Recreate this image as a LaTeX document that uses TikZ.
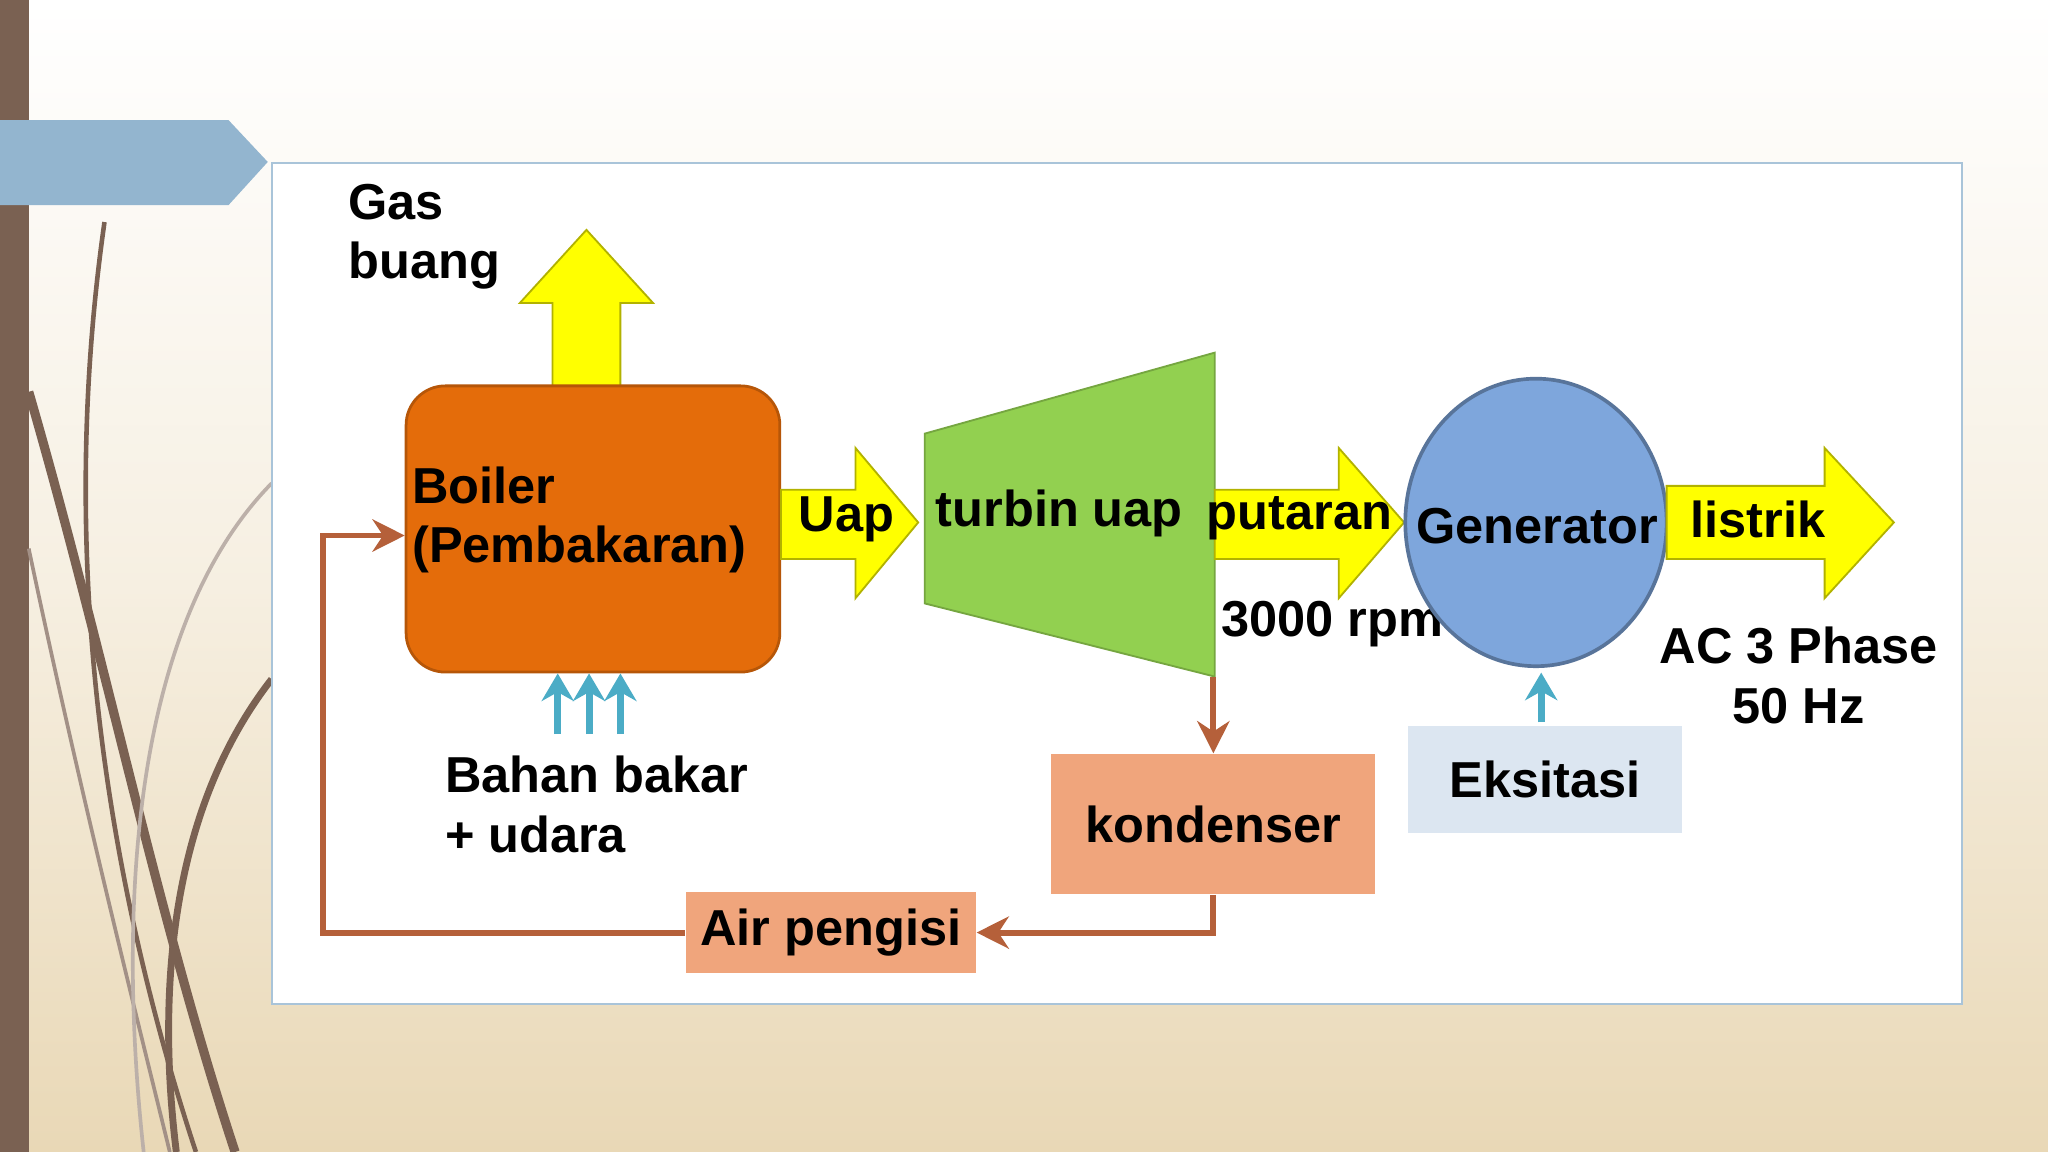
\documentclass[tikz,border=0pt]{standalone}
\usepackage{fontspec}
\setmainfont{Liberation Sans}
\usetikzlibrary{shapes.geometric,arrows.meta}
\definecolor{bgb}{HTML}{E9D8B6}
\definecolor{bar}{HTML}{7A6152}
\definecolor{tab}{HTML}{93B5CF}
\definecolor{boil}{HTML}{E46C0A}
\definecolor{yel}{HTML}{FFFF00}
\definecolor{grn}{HTML}{92D050}
\definecolor{gen}{HTML}{7EA6DC}
\definecolor{sal}{HTML}{F0A57C}
\definecolor{eks}{HTML}{DCE6F1}
\definecolor{cn}{HTML}{B5603A}
\definecolor{cy}{HTML}{4BACC6}
\begin{document}
\begin{tikzpicture}[x=0.01cm,y=-0.01cm,
  lbl/.style={font=\fontsize{11}{13}\selectfont\bfseries, inner sep=0pt},
  box/.style={draw=none, inner sep=0pt, lbl},
  conn/.style={draw=cn, line width=1.3pt, -{Stealth[length=7pt,width=7pt]}},
  yarr/.style={fill=yel, draw=yel!70!black, line width=0.4pt}]
\useasboundingbox (0,0) rectangle (1568,882);
\shade[top color=white, bottom color=bgb, middle color=white!60!bgb] (0,0) rectangle (1568,882);
\fill[bar] (0,0) rectangle (22,882);
% decorative curves
\draw[bar, line width=1pt] (80,170) .. controls (40,450) and (90,700) .. (150,882);
\draw[bar, line width=2pt] (22,300) .. controls (80,500) and (120,700) .. (180,882);
\draw[bar!70, line width=0.8pt] (22,420) .. controls (60,600) and (100,760) .. (130,882);
\draw[bar!50, line width=0.8pt] (208,370) .. controls (100,480) and (90,700) .. (110,882);
\draw[bar, line width=1.5pt] (208,520) .. controls (130,620) and (120,760) .. (135,882);
\fill[tab] (0,92) -- (175,92) -- (205,124) -- (175,157) -- (0,157) -- cycle;
% panel
\draw[fill=white, draw=tab!80] (208,125) rectangle (1502,769);
% gas buang arrow
\draw[yarr] (423,296) -- (423,232) -- (398,232) -- (449,176) -- (500,232) -- (475,232) -- (475,296) -- cycle;
\node[lbl, align=left, anchor=north west] (gas) at (266,140) {Gas\\buang};
% boiler
\node[box, fill=boil, draw=boil!80!black, line width=0.6pt, rounded corners=0.3cm, minimum width=2.86cm, minimum height=2.19cm] (boiler) at (454,405) {};
\node[lbl, align=left, anchor=west] (boilt) at (315,398) {Boiler\\(Pembakaran)};
% uap arrow
\draw[yarr] (598,375) -- (655,375) -- (655,343) -- (703,400) -- (655,458) -- (655,428) -- (598,428) -- cycle;
\node[lbl] (uap) at (648,398) {Uap};
% turbine
\draw[fill=grn, draw=grn!80!black] (708,332) -- (930,270) -- (930,518) -- (708,462) -- cycle;
\node[lbl] (turb) at (811,393) {turbin uap};
\coordinate (turbB) at (929,518);
% putaran arrow
\draw[yarr] (930,375) -- (1025,375) -- (1025,343) -- (1075,400) -- (1025,458) -- (1025,428) -- (930,428) -- cycle;
\node[lbl] (put) at (995,397) {putaran};
\node[lbl] (rpm) at (1020,478) {3000 rpm};
% generator
\node[ellipse, fill=gen, draw=gen!70!black, line width=0.8pt, minimum width=2.0cm, minimum height=2.2cm, inner sep=0pt] (gen) at (1176,400) {};
\node[lbl] (gent) at (1177,403) {Generator};
% listrik arrow
\draw[yarr] (1276,372) -- (1397,372) -- (1397,343) -- (1450,400) -- (1397,458) -- (1397,428) -- (1276,428) -- cycle;
\node[lbl] (lis) at (1346,398) {listrik};
\node[lbl, align=center] (ac) at (1377,517) {AC 3 Phase\\50 Hz};
% fuel arrows
\foreach \x/\n in {427/a,451/b,475/c}{
  \coordinate (f\n) at (\x,562);
  \draw[cy, line width=1.5pt, -{Stealth[length=6pt,width=7pt]}] (f\n) -- (boiler.south -| f\n);
}
\node[lbl, align=left, anchor=north west] (bahan) at (340,578) {Bahan bakar\\+ udara};
% kondenser
\node[box, fill=sal, minimum width=2.48cm, minimum height=1.07cm] (kond) at (929,631) {kondenser};
\draw[conn] (turbB) -- (kond.north);
% eksitasi
\node[box, fill=eks, minimum width=2.1cm, minimum height=0.82cm] (eks) at (1183,597) {Eksitasi};
\draw[cy, line width=1.5pt, -{Stealth[length=6pt,width=7pt]}] (1180,553) -- (1180,515);
% air pengisi
\node[box, fill=sal, minimum width=2.22cm, minimum height=0.62cm] (air) at (636,714) {Air pengisi};
\draw[conn] (kond.south) |- (air.east);
\draw[conn] (air.west) -- (247,714) |- (boiler.west |- 0,410);
\end{tikzpicture}
\end{document}
